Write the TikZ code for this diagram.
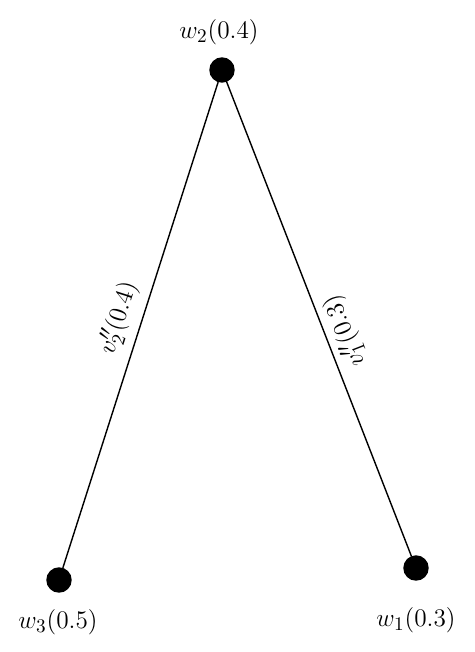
\documentclass[tikz,border=0pt]{standalone}
\usetikzlibrary{positioning}
\begin{document}
\begin{tikzpicture}[x=0.02cm, y=-0.02cm, line width=0.8pt, main/.style = {draw, circle, fill=black, inner sep=0pt, minimum size=0.48cm}, lbl/.style = {font=\fontsize{15}{18}\selectfont}]
		\useasboundingbox (0,0) rectangle (474,652);

		\node[main] (W2) at (222,70) {};
		\node[main] (W3) at (59,580) {};
		\node[main] (W1) at (416,568) {};

		\node[lbl] (L2) at (219,32) {$w_2(0.4)$};
		\node[lbl] (L3) at (58,622) {$w_3(0.5)$};
		\node[lbl] (L1) at (416,620) {$w_1(0.3)$};

		\draw (W3) -- node[lbl, sloped, above=2pt, pos=0.5] (E2) {$v_2''(0.4)$} (W2);
		\draw (W1) -- node[lbl, sloped, allow upside down, below, pos=0.46] (E1) {$v_1''(0.3)$} (W2);
	\end{tikzpicture}
\end{document}
